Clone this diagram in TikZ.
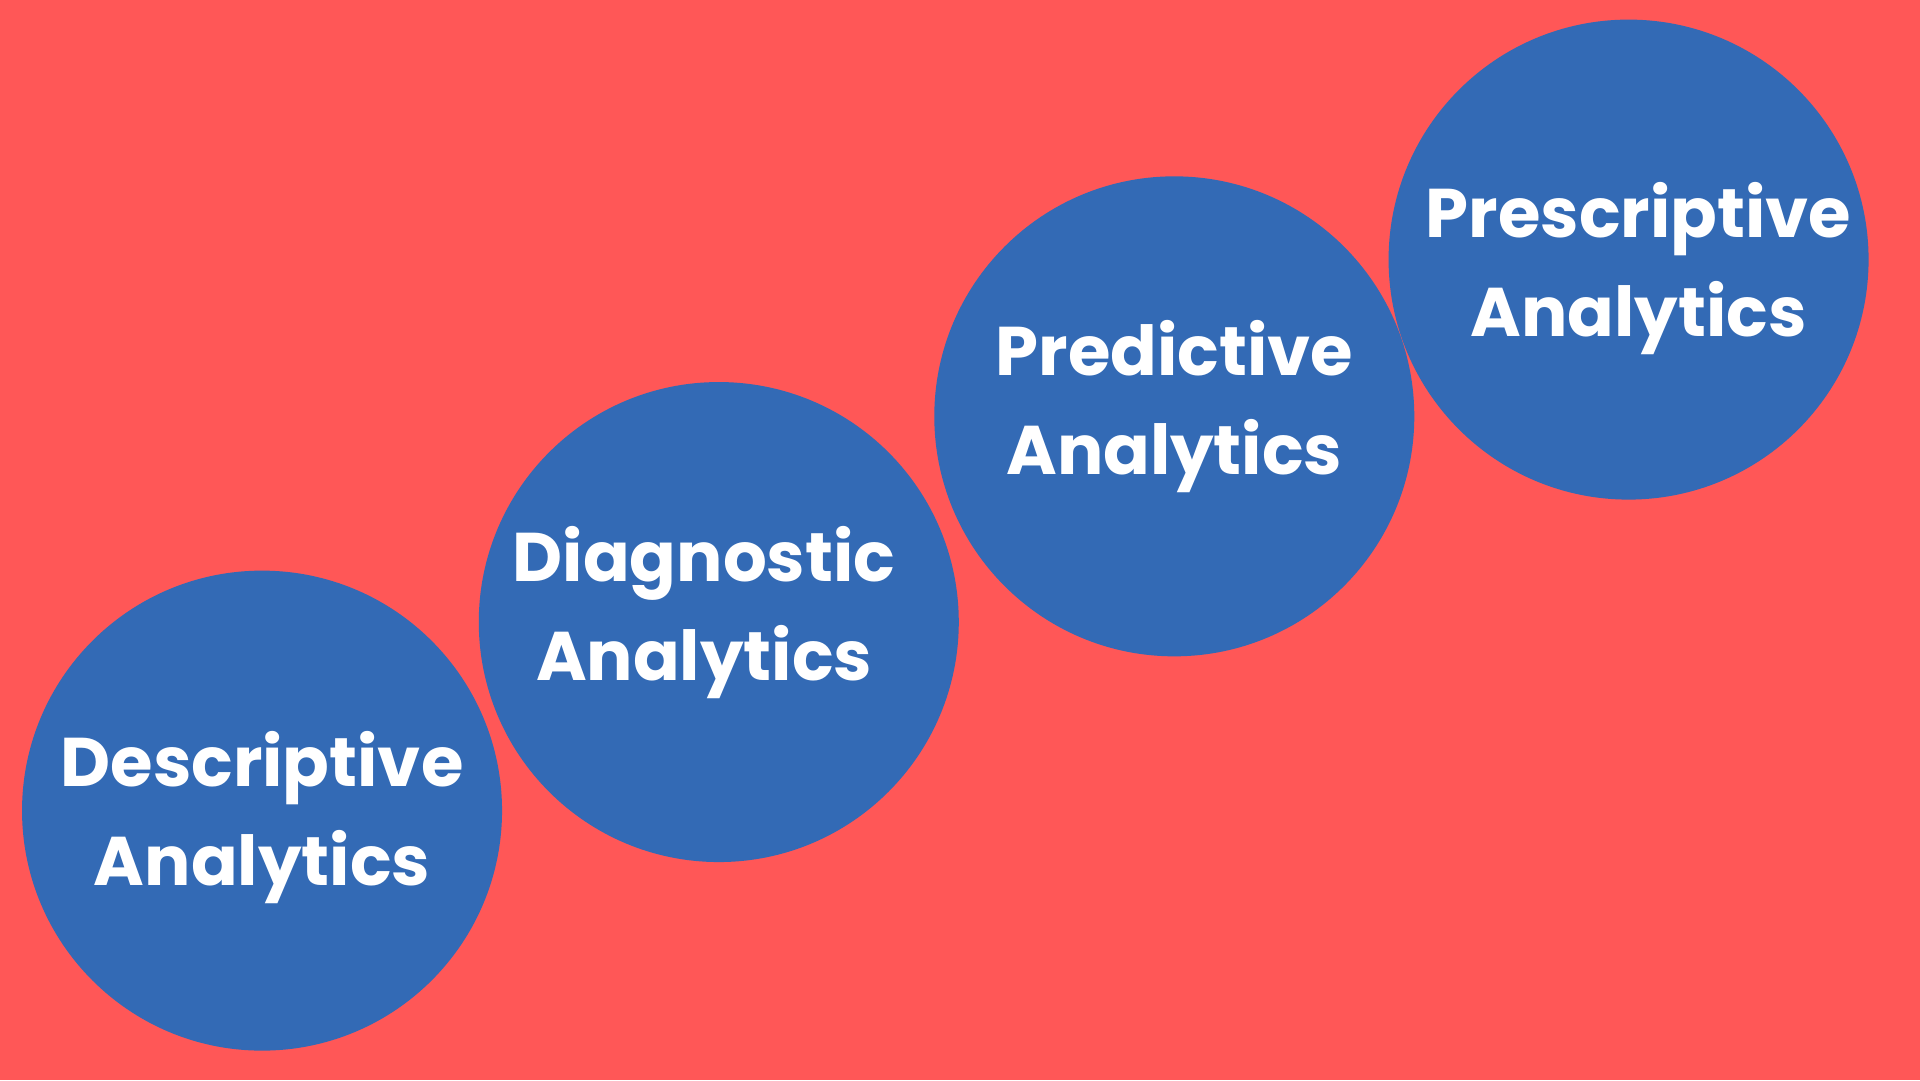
\documentclass[tikz,border=0pt]{standalone}
\usepackage{fontspec}
\setmainfont{Poppins}[UprightFont=* Bold]
\definecolor{bg}{HTML}{FF5757}
\definecolor{blob}{HTML}{336AB5}
\tikzset{blobc/.style={circle,fill=blob,minimum size=3.92cm,inner sep=0pt},
lab/.style={text=white,align=center,font=\fontsize{16}{23}\selectfont}}
\begin{document}
\begin{tikzpicture}
\fill[bg] (0,0) rectangle (15.68,8.82);
\useasboundingbox (0,0) rectangle (15.68,8.82);
\node[blobc] (c1) at (2.14,2.20) {};
\node[blobc] (c2) at (5.87,3.74) {};
\node[blobc] (c3) at (9.59,5.42) {};
\node[blobc] (c4) at (13.30,6.70) {};
\node[lab] (t1) at (2.14,2.14) {Descriptive\\Analytics};
\node[lab] (t2) at (5.75,3.82) {Diagnostic\\Analytics};
\node[lab] (t3) at (9.59,5.50) {Predictive\\Analytics};
\node[lab] (t4) at (13.38,6.63) {Prescriptive\\Analytics};
\end{tikzpicture}
\end{document}
